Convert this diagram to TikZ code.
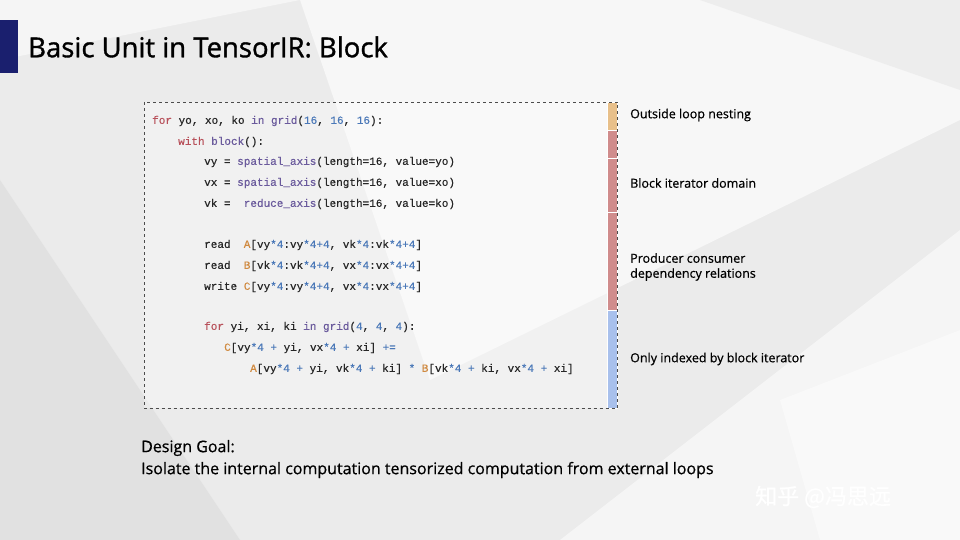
\documentclass[tikz,border=0pt]{standalone}
\usepackage{fontspec}
\setmainfont{Open Sans}
\newfontfamily\titlefont[FakeBold=1.2]{Open Sans}
\newfontfamily\labfont[FakeBold=0.6]{Open Sans}
\newfontfamily\codefont[FakeBold=0.4]{Liberation Mono}
\newfontfamily\cjk[FakeBold=1]{Noto Sans CJK SC}
\definecolor{kw}{HTML}{B8505A}
\definecolor{fn}{HTML}{6A5A9C}
\definecolor{num}{HTML}{4A78B8}
\definecolor{arr}{HTML}{D08A40}
\definecolor{bgc}{HTML}{EBEBEB}
\definecolor{navy}{HTML}{1A1F6E}
\definecolor{segor}{HTML}{E8C08A}
\definecolor{segred}{HTML}{D08C8C}
\definecolor{segblue}{HTML}{A8C0EC}
\newcommand{\K}[1]{\textcolor{kw}{#1}}
\newcommand{\F}[1]{\textcolor{fn}{#1}}
\newcommand{\N}[1]{\textcolor{num}{#1}}
\newcommand{\Ar}[1]{\textcolor{arr}{#1}}
\begin{document}
\begin{tikzpicture}[x=1pt,y=-1pt,
  code/.style={anchor=west,inner sep=0pt,text=black!85,font=\codefont\fontsize{11}{13}\selectfont},
  lab/.style={anchor=west,inner sep=0pt,font=\labfont\fontsize{12.5}{15}\selectfont,align=left},
  seg/.style={draw=white,line width=0.4pt}]
\useasboundingbox (0,0) rectangle (960,540);
\fill[bgc] (0,0) rectangle (960,540);
\fill[white,opacity=0.6] (300,0) -- (960,0) -- (960,120) -- (430,380) -- cycle;
\fill[white,opacity=0.5] (560,540) -- (960,230) -- (960,540) -- cycle;
\fill[gray!30,opacity=0.5] (0,180) -- (240,540) -- (0,540) -- cycle;
\fill[white,opacity=0.5] (0,60) -- (300,0) -- (0,0) -- cycle;
\fill[gray!25,opacity=0.4] (700,0) -- (960,0) -- (960,90) -- cycle;
\fill[white,opacity=0.4] (780,400) -- (960,330) -- (960,540) -- (820,540) -- cycle;
% title
\fill[navy] (0,20) rectangle (18,73);
\node[anchor=west,inner sep=0pt,font=\titlefont\fontsize{27.5}{32}\selectfont] (title) at (28,47) {Basic Unit in TensorIR: Block};
% code box
\node[fill=white,fill opacity=0.35,minimum width=473pt,minimum height=306pt,anchor=north west,inner sep=0pt] (box) at (144,102) {};
\fill[segor,seg] (607,102) rectangle (617,130);
\fill[segred,seg] (607,130) rectangle (617,158);
\fill[segred,seg] (607,158) rectangle (617,212);
\fill[segred,seg] (607,212) rectangle (617,310);
\fill[segblue,seg] (607,310) rectangle (617,408);
\draw[gray!60!black,dashed,line width=0.6pt] (box.north west) rectangle (box.south east);
\node[code] (l1) at (152,121) {\K{for} yo, xo, ko \F{in} \F{grid}(\N{16}, \N{16}, \N{16}):};
\node[code] (l2) at (178,142) {\K{with} \F{block}():};
\node[code] (l3) at (204,162) {vy = \F{spatial\_axis}(length=16, value=yo)};
\node[code] (l4) at (204,183) {vx = \F{spatial\_axis}(length=16, value=xo)};
\node[code] (l5) at (204,204) {vk = \ \F{reduce\_axis}(length=16, value=ko)};
\node[code] (l6) at (204,245) {read \ \Ar{A}[vy\N{*4}:vy\N{*4+4}, vk\N{*4}:vk\N{*4+4}]};
\node[code] (l7) at (204,266) {read \ \Ar{B}[vk\N{*4}:vk\N{*4+4}, vx\N{*4}:vx\N{*4+4}]};
\node[code] (l8) at (204,287) {write \Ar{C}[vy\N{*4}:vy\N{*4+4}, vx\N{*4}:vx\N{*4+4}]};
\node[code] (l9) at (204,327) {\K{for} yi, xi, ki \F{in} \F{grid}(\N{4}, \N{4}, \N{4}):};
\node[code] (l10) at (224,348) {\Ar{C}[vy\N{*4} \N{+} yi, vx\N{*4} \N{+} xi] \N{+=}};
\node[code] (l11) at (250,369) {\Ar{A}[vy\N{*4} \N{+} yi, vk\N{*4} \N{+} ki] \N{*} \Ar{B}[vk\N{*4} \N{+} ki, vx\N{*4} \N{+} xi]};
% labels
\node[lab] (a) at (630,115) {Outside loop nesting};
\node[lab] (b) at (630,183) {Block iterator domain};
\node[lab] (c) at (630,267) {Producer consumer\\dependency relations};
\node[lab] (d) at (630,359) {Only indexed by block iterator};
% goal
\node[anchor=west,inner sep=0pt,font=\labfont\fontsize{16}{22}\selectfont,align=left] (goal) at (141,459) {Design Goal:\\Isolate the internal computation tensorized computation from external loops};
\node[anchor=west,inner sep=0pt,text=white,font=\cjk\fontsize{22}{26}\selectfont] (wm) at (755,497) {知乎 @冯思远};
\end{tikzpicture}
\end{document}
